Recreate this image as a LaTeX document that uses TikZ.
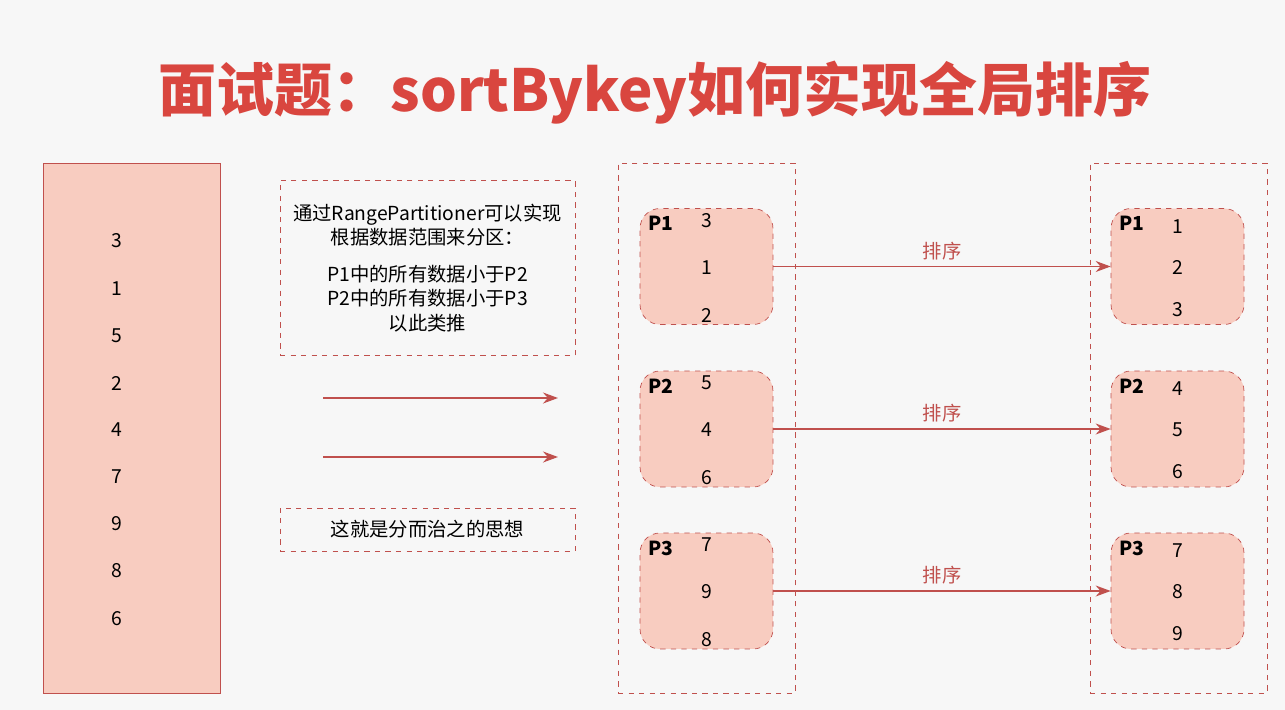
\documentclass[tikz,border=0pt]{standalone}
\usepackage{fontspec}
\setmainfont{Noto Sans CJK SC}
\usetikzlibrary{positioning,arrows.meta}
\definecolor{redline}{HTML}{C0504D}
\definecolor{pinkfill}{HTML}{F8CCC0}
\definecolor{titlered}{HTML}{D9463F}
\begin{document}
\begin{tikzpicture}[x=0.02cm,y=-0.02cm,>={Stealth[length=3mm,width=2.2mm]},
		bigbox/.style={rectangle,draw=redline,fill=pinkfill,minimum width=3.54cm,minimum height=10.6cm},
		outerbox/.style={rectangle,draw=redline,dashed,minimum width=3.54cm,minimum height=10.6cm},
		notebox/.style={rectangle,draw=redline,dashed,minimum width=5.9cm},
		partbox/.style={rectangle,rounded corners=4mm,draw=redline,dashed,fill=pinkfill,minimum width=2.66cm,minimum height=2.32cm},
		num/.style={font=\fontsize{11}{13}\selectfont},
		plabel/.style={font=\fontsize{11}{13}\selectfont\bfseries},
		flow/.style={->,draw=redline,thick}]
		\path[fill=white!97!black] (0,0) rectangle (1285,710);
		\node[font=\fontsize{33}{38}\selectfont\bfseries,text=titlered] (title) at (655,93) {面试题：sortBykey如何实现全局排序};
		
		\node[bigbox] (input) at (131.5,428) {};
		\foreach \v/\y [count=\i] in {3/241,1/289,5/336,2/383,4/430,7/477,9/524,8/571,6/619}
		\node[num] (in\i) at (117,\y) {\v};
		
		\node[notebox,minimum height=3.5cm,align=center,font=\fontsize{11}{14}\selectfont] (note) at (427.5,268)
		{通过RangePartitioner可以实现\\根据数据范围来分区：\\[2.4mm]P1中的所有数据小于P2\\P2中的所有数据小于P3\\以此类推};
		\node[notebox,minimum height=0.86cm,font=\fontsize{11}{13}\selectfont] (idea) at (427.5,529.5) {这就是分而治之的思想};
		\coordinate (a1s) at (323,398); \coordinate (a1e) at (558,398);
		\coordinate (a2s) at (323,457); \coordinate (a2e) at (558,457);
		\draw[flow] (a1s) -- (a1e);
		\draw[flow] (a2s) -- (a2e);
		
		\node[outerbox] (left) at (706.5,428) {};
		\node[outerbox] (right) at (1178.5,428) {};
		
		\foreach \p/\yc/\a/\b/\c/\d/\e/\f in {1/266.5/3/1/2/1/2/3, 2/429/5/4/6/4/5/6, 3/591/7/9/8/7/8/9}{
			\node[partbox] (L\p) at (706.5,\yc) {};
			\node[partbox] (R\p) at (1177.5,\yc) {};
			\node[plabel] at (661,\yc-43) {P\p};
			\node[plabel] at (1132,\yc-43) {P\p};
			\node[num] at (707,\yc-46) {\a};
			\node[num] at (707,\yc+1) {\b};
			\node[num] at (707,\yc+49) {\c};
			\node[num] at (1178,\yc-40) {\d};
			\node[num] at (1178,\yc+1) {\e};
			\node[num] at (1178,\yc+43) {\f};
			\draw[flow] (L\p) -- node[above,text=redline,font=\fontsize{11}{13}\selectfont] {排序} (R\p);
		}
\end{tikzpicture}
\end{document}
